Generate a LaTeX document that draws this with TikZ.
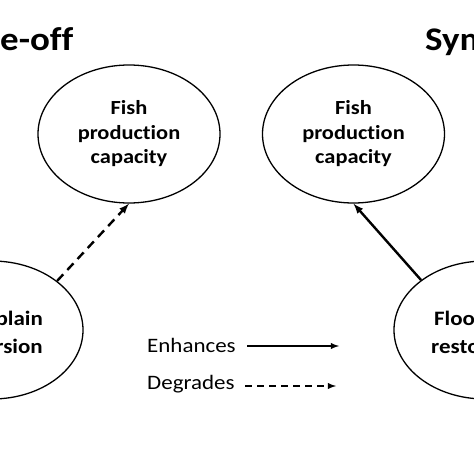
\documentclass[tikz,border=0pt]{standalone}
\usepackage{fontspec}
\setmainfont{Carlito}[FakeStretch=1.12, Ligatures=NoCommon]
\usetikzlibrary{arrows, shapes.geometric, positioning}

\begin{document}
\begin{tikzpicture}[
  x=1pt,
  y=-1pt,
  bubble/.style={draw, ellipse, line width=1.3pt, minimum width=182pt, minimum height=138pt, inner sep=0pt, align=center, font=\fontsize{20}{24.5}\selectfont\bfseries},
  frag/.style={inner sep=0pt, font=\fontsize{20.5}{28}\selectfont\bfseries},
  ttl/.style={inner sep=0pt, font=\fontsize{33}{40}\selectfont\bfseries},
  lgd/.style={inner sep=0pt, font=\fontsize{20.5}{24}\selectfont},
  enh/.style={line width=2.4pt, -latex},
  deg/.style={line width=2.4pt, -latex, dash pattern=on 9pt off 6pt}
  ]
    \useasboundingbox (0,0) rectangle (474,474);
    \clip (0,0) rectangle (474,474);

    % titles
    \node[ttl, anchor=base west] (ttlL) at (0,50) {e-off};
    \node[ttl, anchor=base west] (ttlR) at (425,50) {Sym};

    % ellipses
    \node[bubble] (fishL) at (129,134) {Fish\\production\\capacity};
    \node[bubble] (fishR) at (353.5,134) {Fish\\production\\capacity};
    \node[bubble] (convL) at (-8,330) {};
    \node[bubble] (restR) at (485,330) {};

    % cut texts
    \node[frag, anchor=base east] (convA) at (43,325) {plain};
    \node[frag, anchor=base east] (convB) at (43,353) {rsion};
    \node[frag, anchor=base west] (restA) at (434,325) {Floo};
    \node[frag, anchor=base west] (restB) at (431,353) {resto};

    % links
    \draw[deg] (convL.37) -- (fishL.270);
    \draw[enh] (restR.142) -- (fishR.270);

    % legend
    \node[lgd, anchor=base west] (enhT) at (147,352) {Enhances};
    \node[lgd, anchor=base west] (degT) at (147,389) {Degrades};
    \coordinate (enhA) at (247,346);
    \coordinate (enhB) at (339,346);
    \coordinate (degA) at (245,386);
    \coordinate (degB) at (336,386);
    \draw[line width=1.8pt, -latex] (enhA) -- (enhB);
    \draw[line width=1.8pt, -latex, dash pattern=on 7pt off 5pt] (degA) -- (degB);

\end{tikzpicture}
\end{document}
